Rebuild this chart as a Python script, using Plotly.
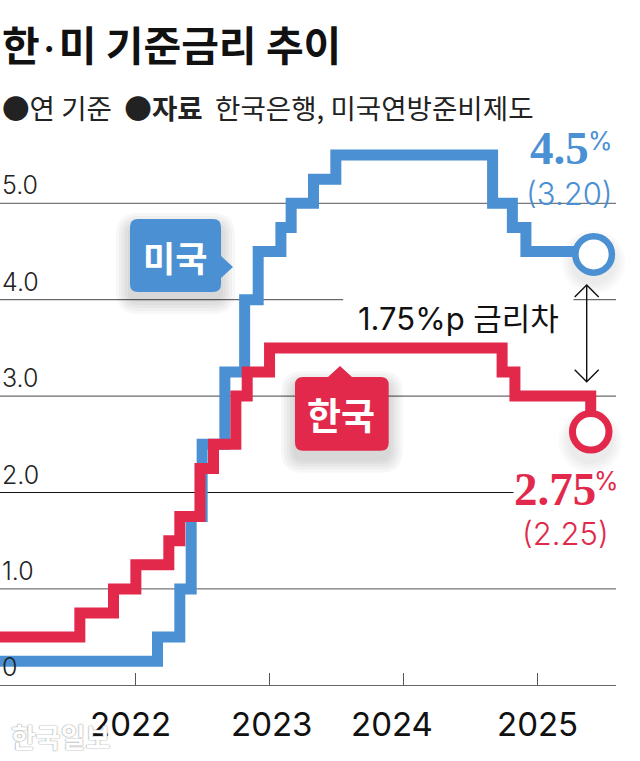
import plotly.graph_objects as go

W, H = 640, 761
BLUE = "#4A90D2"
RED = "#E2294C"
KR = "'Noto Sans CJK KR', 'Noto Sans', sans-serif"
LAT = "Inter, 'Noto Sans CJK KR', sans-serif"

us_dates = ["2020-12-26", "2022-03-01", "2022-05-01", "2022-06-01", "2022-07-01", "2022-09-01",
            "2022-10-25", "2022-12-01", "2023-02-01", "2023-03-01", "2023-05-01", "2023-07-01",
            "2024-09-01", "2024-10-25", "2024-12-01", "2025-06-04"]
us_rates = [0.25, 0.5, 1.0, 1.75, 2.5, 3.25, 4.0, 4.5, 4.75, 5.0, 5.25, 5.5, 5.0, 4.75, 4.5, 4.5]

kr_dates = ["2020-12-26", "2021-08-01", "2021-11-01", "2022-01-01", "2022-04-01", "2022-05-01",
            "2022-06-25", "2022-08-01", "2022-10-01", "2022-11-01", "2023-01-01", "2024-09-27",
            "2024-11-01", "2025-05-27"]
kr_rates = [0.5, 0.75, 1.0, 1.25, 1.5, 1.75, 2.25, 2.5, 3.0, 3.25, 3.5, 3.25, 3.0, 2.63]

us_end = ("2025-06-04", 4.47)
kr_end = ("2025-05-27", 2.63)

y_ticks = [0, 1, 2, 3, 4, 5]
y_labels = ["0", "1.0", "2.0", "3.0", "4.0", "5.0"]
x_ticks = ["2022-01-01", "2023-01-01", "2024-01-01", "2025-01-01"]
x_labels = ["2022", "2023", "2024", "2025"]
x_label_px = [130, 271.5, 392, 537]

grid_levels = [1, 2, 3, 4, 5]
grid_spans = {
    1: ["2020-12-26", "2025-08-04"],
    2: ["2020-12-26", "2024-10-28"],
    3: ["2020-12-26", "2025-08-04"],
    4: ["2020-12-26", "2023-07-21", None, "2025-04-10", "2025-08-04"],
    5: ["2020-12-26", "2025-08-04"],
}
grid_colors = {1: "#555555", 2: "#111111", 3: "#444444", 4: "#444444", 5: "#555555"}


def px(x):
    return x / W


def py(y):
    return 1 - y / H


def bubble(x0, y0, x1, y1, r, tip=None, grow=0.0, dy=0.0):
    x0 -= grow; y0 -= grow - dy; x1 += grow; y1 += grow + dy
    r += grow
    P = lambda x, y: f"{px(x):.5f},{py(y):.5f}"
    d = "M " + P(x0 + r, y0)
    if tip == "top":
        cx, ty, hb = 340, 366, 12
        d += " L " + P(cx - hb, y0) + " L " + P(cx, ty + dy) + " L " + P(cx + hb, y0)
    d += " L " + P(x1 - r, y0) + " Q " + P(x1, y0) + " " + P(x1, y0 + r)
    if tip == "right":
        cy, tx, hb = 267, 233, 11
        d += " L " + P(x1, cy - hb) + " L " + P(tx, cy) + " L " + P(x1, cy + hb)
    d += " L " + P(x1, y1 - r) + " Q " + P(x1, y1) + " " + P(x1 - r, y1)
    d += " L " + P(x0 + r, y1) + " Q " + P(x0, y1) + " " + P(x0, y1 - r)
    d += " L " + P(x0, y0 + r) + " Q " + P(x0, y0) + " " + P(x0 + r, y0) + " Z"
    return d


fig = go.Figure()

for lv in grid_levels:
    xs = grid_spans[lv]
    ys = [None if v is None else lv for v in xs]
    fig.add_trace(go.Scatter(x=xs, y=ys, mode="lines", line=dict(color=grid_colors[lv], width=1),
                             hoverinfo="skip", showlegend=False))

fig.add_trace(go.Scatter(x=us_dates, y=us_rates, mode="lines", line=dict(color=BLUE, width=11, shape="hv"),
                         name="미국", showlegend=False))
fig.add_trace(go.Scatter(x=kr_dates, y=kr_rates, mode="lines", line=dict(color=RED, width=11, shape="hv"),
                         name="한국", showlegend=False))
fig.add_trace(go.Scatter(x=[us_end[0]], y=[us_end[1]], mode="markers",
                         marker=dict(size=36.5, color="white", line=dict(color=BLUE, width=6.5)),
                         showlegend=False))
fig.add_trace(go.Scatter(x=[kr_end[0]], y=[kr_end[1]], mode="markers",
                         marker=dict(size=36.5, color="white", line=dict(color=RED, width=7)),
                         showlegend=False))

shapes = []
for g in [14, 11, 8, 5, 2]:
    shapes.append(dict(type="path", xref="paper", yref="paper", layer="above", line_width=0,
                       fillcolor="rgba(0,0,0,0.03)",
                       path=bubble(130, 219, 221, 292, 8, None, g, 8)))
    shapes.append(dict(type="path", xref="paper", yref="paper", layer="above", line_width=0,
                       fillcolor="rgba(0,0,0,0.03)",
                       path=bubble(295, 377, 388.7, 450.7, 8, None, g, 8)))
shapes.append(dict(type="path", xref="paper", yref="paper", layer="above", line_width=0,
                   fillcolor=BLUE, path=bubble(130, 219, 221, 292, 8, "right")))
shapes.append(dict(type="path", xref="paper", yref="paper", layer="above", line_width=0,
                   fillcolor=RED, path=bubble(295, 377, 388.7, 450.7, 8, "top")))
for cx, cy in [(593.3, 262), (590.3, 441)]:
    for r in [32, 29, 26, 23]:
        shapes.append(dict(type="circle", xref="paper", yref="paper", layer="below", line_width=0,
                           fillcolor="rgba(0,0,0,0.018)",
                           x0=px(cx - r), x1=px(cx + r), y0=py(cy + r), y1=py(cy - r)))
ax, ay0, ay1, ah = 586.7, 285, 381.7, 12
d = (f"M {px(ax-ah):.5f},{py(ay0+ah):.5f} L {px(ax):.5f},{py(ay0):.5f} L {px(ax+ah):.5f},{py(ay0+ah):.5f} "
     f"M {px(ax):.5f},{py(ay0):.5f} L {px(ax):.5f},{py(ay1):.5f} "
     f"M {px(ax-ah):.5f},{py(ay1-ah):.5f} L {px(ax):.5f},{py(ay1):.5f} L {px(ax+ah):.5f},{py(ay1-ah):.5f}")
shapes.append(dict(type="path", xref="paper", yref="paper", layer="above",
                   line=dict(color="#111111", width=1.4), path=d))

ann = []


def text(x, y, s, size, color="#111111", family=KR, weight=None, anchor="left", **kw):
    f = dict(size=size, color=color, family=family)
    if weight:
        f["weight"] = weight
    ann.append(dict(x=px(x), y=py(y), xref="paper", yref="paper", text=s, showarrow=False,
                    xanchor=anchor, yanchor="middle", font=f, borderpad=0, borderwidth=0, **kw))


text(2, 43, "한<span style='font-size:32px'>·</span>미 기준금리 추이", 41, color="#111111", weight=700)
text(2, 107, "●연 기준  ●<b>자료</b>  한국은행, 미국연방준비제도", 27.6, color="#222222")
text(358, 318, "1.75%p 금리차", 31, family=LAT, color="#111111")
text(175, 256, "미국", 35, color="white", weight=700, anchor="center")
text(341, 414, "한국", 37, color="white", weight=700, anchor="center")

text(530, 148, "4.5", 47, color=BLUE, family="'Liberation Serif', serif", weight=700)
text(588, 141, "%", 25, color=BLUE, family=LAT)
text(569, 193, "(3.20)", 31, color=BLUE, family=LAT, weight=300, anchor="center")
text(514, 489, "2.75", 47, color=RED, family="'Liberation Serif', serif", weight=700)
text(594, 481, "%", 25, color=RED, family=LAT)
text(565, 533, "(2.25)", 31, color=RED, family=LAT, weight=300, anchor="center")

for v, lab in zip(y_ticks, y_labels):
    ann.append(dict(x=px(0), xref="paper", y=v, yref="y", text=lab, showarrow=False, xanchor="left",
                    yanchor="bottom", yshift=1, font=dict(size=25, color="#222222", family=LAT, weight=300)))
for p, lab in zip(x_label_px, x_labels):
    text(p, 724, lab, 33, color="#111111", family=LAT, anchor="center")

text(60, 736, "한국일보", 27, color="white", weight=700, anchor="center")
ann[-1]["font"]["shadow"] = "0 0 1.5px #999999, 0 0 1px #999999"

fig.update_layout(
    width=W, height=H, margin=dict(l=0, r=0, t=0, b=0), paper_bgcolor="white", plot_bgcolor="white",
    showlegend=False, shapes=shapes, annotations=ann,
    xaxis=dict(type="date", domain=[0, 616 / 640], range=["2020-12-26", "2025-08-04"], tickvals=x_ticks,
               showticklabels=False, ticks="inside", ticklen=12, tickwidth=1, tickcolor="#555555",
               showline=True, linecolor="#666666", linewidth=1, showgrid=False, zeroline=False),
    yaxis=dict(domain=[75.7 / 761, 1], range=[0, 7.109], visible=False, showgrid=False, zeroline=False),
)
fig.write_html("out.html", config=dict(displayModeBar=False),
               post_script="document.body.style.margin='0';document.documentElement.style.overflow='hidden';")
